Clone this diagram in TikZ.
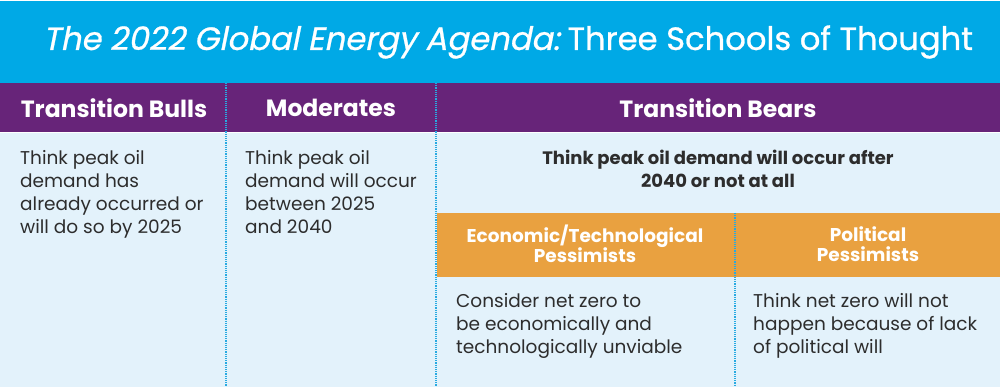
\documentclass[tikz,border=0pt]{standalone}
\usepackage{fontspec}
\setmainfont{Poppins}
\newfontfamily\titlefont[FakeBold=0.8]{Poppins}
\newfontfamily\titleslant[FakeBold=0.8,FakeSlant=0.2]{Poppins}
\definecolor{titleblue}{RGB}{0,169,230}
\definecolor{headpurple}{RGB}{103,36,121}
\definecolor{paleblue}{RGB}{227,242,251}
\definecolor{bandorange}{RGB}{233,161,64}
\definecolor{bodygray}{RGB}{45,45,45}
\definecolor{dotblue}{RGB}{40,170,225}
\tikzset{
  headtext/.style={text=white,font=\fontsize{23.5}{26}\selectfont\bfseries},
  subhead/.style={text=white,align=center,font=\fontsize{18.5}{20}\selectfont\bfseries},
  bodytext/.style={text=bodygray,align=left,anchor=north west,inner sep=0,font=\fontsize{18.5}{23}\selectfont},
  divider/.style={dotblue,densely dotted,line width=1.2pt}
}
\begin{document}
\begin{tikzpicture}[x=1pt,y=-1pt]
\useasboundingbox (0,0) rectangle (1000,387);
\fill[white] (0,0) rectangle (1000,387);
\fill[titleblue] (0,1) rectangle (1000,83);
\fill[headpurple] (0,83) rectangle (1000,132);
\fill[paleblue] (0,133) rectangle (1000,387);
\fill[bandorange] (437,213) rectangle (1000,277);

\draw[divider] (226,83) -- (226,387);
\draw[divider] (436,83) -- (436,387);
\draw[divider] (735,213) -- (735,387);

\node [text=white,font=\titlefont\fontsize{32.2}{35}\selectfont] (title) at (508,42) {{\titleslant The 2022 Global Energy Agenda:}\hspace{8pt}Three Schools of Thought};

\node [headtext] (bulls) at (114,108) {Transition Bulls};
\node [headtext] (moderates) at (331,108) {Moderates};
\node [headtext] (bears) at (718,108) {Transition Bears};

\node [bodytext] (bullstext) at (20,150) {Think peak oil\\demand has\\already occurred or\\will do so by 2025};
\node [bodytext] (modtext) at (245,150) {Think peak oil\\demand will occur\\between 2025\\and 2040};
\node [bodytext,anchor=north,align=center,font=\fontsize{18}{23}\selectfont\bfseries] (bearstext) at (718,150) {Think peak oil demand will occur after\\2040 or not at all};

\node [subhead] (econ) at (585,244) {Economic/Technological\\Pessimists};
\node [subhead] (political) at (868,244) {Political\\Pessimists};

\node [bodytext] (econtext) at (456,293) {Consider net zero to\\be economically and\\technologically unviable};
\node [bodytext] (poltext) at (753,293) {Think net zero will not\\happen because of lack\\of political will};
\end{tikzpicture}
\end{document}
